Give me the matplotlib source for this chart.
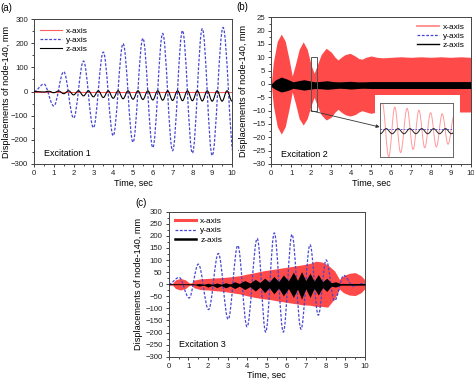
import numpy as np
import matplotlib
matplotlib.use("Agg")
import matplotlib.pyplot as plt
from matplotlib.path import Path
from matplotlib.patches import PathPatch, Rectangle, ConnectionPatch
from matplotlib.lines import Line2D
from matplotlib.ticker import MultipleLocator

plt.rcParams['font.family'] = ['Liberation Sans', 'DejaVu Sans']

# ---------------- (a) Excitation 1 : extrema of each series
a_y_t = [0, 0.5, 1.0, 1.5, 2.0, 2.5, 3.0, 3.5, 4.0, 4.5, 5.0, 5.5, 6.0, 6.5, 7.0, 7.5, 8.0, 8.5, 9.0, 9.55, 10.1]
a_y_v = [0, 31, -60, 82, -110, 126, -150, 163, -183, 198, -210, 220, -232, 240, -245, 252, -255, 260, -265, 265, -270]
a_z_t = [0, 0.5, 0.75, 1.0, 1.25, 1.5, 1.75, 2.0, 2.25, 2.5, 2.75, 3.0, 3.25, 3.5, 3.75, 4.0, 4.25, 4.5, 4.75,
         5.0, 5.25, 5.5, 5.75, 6.0, 6.25, 6.5, 6.75, 7.0, 7.25, 7.5, 7.75, 8.0, 8.25, 8.5, 8.75, 9.0, 9.25,
         9.5, 9.75, 10.0]
a_z_v = [0, -2, 1, -5, 2, -9, 3, -14, 3, -18, 3, -22, 3, -25, 3, -28, 3, -30, 3,
         -32, 3, -33, 3, -35, 3, -36, 3, -37, 3, -38, 3, -38, 3, -39, 3, -40, 3,
         -40, 3, -40]
a_x_t = [0, 10]
a_x_v = [0, 0]

# ---------------- (b) Excitation 2 : envelopes of the dense signals
b_x_t = [0, 0.1, 0.3, 0.5, 0.7, 0.9, 1.05, 1.2, 1.4, 1.6, 1.8, 2.0, 2.15, 2.3, 2.5, 2.75, 3.0, 3.2, 3.35,
         3.5, 3.7, 3.95, 4.2, 4.4, 4.55, 4.75, 5.0, 5.3, 5.6, 6.0, 6.5, 7.0, 7.5, 8.0, 8.5, 9.0, 9.5, 10.0]
b_x_hi = [0, 8, 16, 18.7, 16, 9, 3, 7, 13, 15.8, 13, 7, 4, 7, 11, 13.4, 12, 10, 9,
          10, 11, 11.5, 10.5, 9.5, 9.3, 10, 10.5, 10, 9.8, 10, 10.2, 10, 10.2, 10, 10.2, 10, 10.2, 10]
b_x_lo = [0, -8, -16, -18.8, -16, -9, -3, -7, -13, -15.4, -13, -8, -5, -8, -11.5, -13.5, -12.5, -10.5, -9.5,
          -10.5, -11.5, -12, -11.5, -10.5, -10, -10.5, -11, -10.5, -10.5, -10.5, -10.5, -10.5, -10.5, -10.5,
          -10.5, -10.5, -10.5, -10.5]
b_z_t = [0, 0.2, 0.5, 0.8, 1.1, 1.4, 1.65, 1.9, 2.2, 2.5, 2.8, 3.1, 3.4, 3.7, 4.0, 4.3, 4.6, 5.0, 6, 7, 8, 9, 10]
b_z_hi = [0, 1.5, 2.6, 1.8, 0.8, 1.3, 1.6, 1.2, 0.8, 1.0, 1.2, 0.9, 0.8, 0.9, 1.0, 0.8, 0.8, 0.9, 0.9, 0.9, 0.9, 0.9, 0.9]
b_z_lo = [-1, -2, -3, -2.5, -1.6, -2, -2.3, -2, -1.7, -1.8, -2, -1.8, -1.6, -1.7, -1.9, -1.7, -1.6, -1.7, -1.7,
          -1.7, -1.7, -1.7, -1.7]
b_y_t = [0, 10]
b_y_v = [-0.5, -0.5]

# zoomed window 1.97-2.31 s shown in the inset
ins_x_t = [1.97, 1.982, 2.012, 2.04, 2.067, 2.097, 2.125, 2.152, 2.179, 2.206, 2.233, 2.26, 2.287, 2.316]
ins_x_v = [9, 10, -10, 8.4, -8.5, 7.9, -7.3, 7.2, -6.7, 6.3, -6.4, 5.9, -5.4, 5.5]
ins_z_t = [1.97, 1.973, 2.0, 2.028, 2.055, 2.083, 2.11, 2.138, 2.165, 2.193, 2.22, 2.248, 2.275, 2.303, 2.33]
ins_z_v = [-1.3, -1.5, 0.4, -1.5, 0.4, -1.5, 0.4, -1.5, 0.4, -1.5, 0.4, -1.5, 0.4, -1.5, 0.4]
ins_y_t = [1.97, 2.31]
ins_y_v = [0.1, 0.1]

# ---------------- (c) Excitation 3
c_y_t = [0, 0.53, 1.04, 1.51, 2.03, 2.53, 3.03, 3.52, 3.99, 4.51, 4.94, 5.38, 5.84, 6.28, 6.74, 7.2, 7.62,
         8.02, 8.45, 8.92, 9.4, 9.8, 10.0]
c_y_v = [0, 28, -57, 83, -105, 127, -145, 160, -176, 189, -198, 212, -198, 206, -186, 163, -128,
         100, -68, 36, -8, 2, 0]
c_x_t = [0, 0.2, 0.35, 0.6, 0.85, 1.05, 1.15, 1.3, 1.6, 2.0, 2.4, 2.8, 3.2, 3.6, 4.0, 4.4, 4.8, 5.2, 5.6,
         6.0, 6.4, 6.8, 7.2, 7.5, 7.8, 8.1, 8.45, 8.7, 8.9, 9.2, 9.5, 9.8, 10.0]
c_x_hi = [3, 4, 18, 24, 18, 5, 5, 17, 22, 24, 26, 28, 31, 35, 42, 48, 55, 60, 65,
          70, 75, 80, 86, 95, 92, 80, 55, 20, 35, 45, 48, 35, 18]
c_x_lo = [-3, -4, -18, -24, -18, -5, -5, -15, -22, -24, -27, -30, -35, -40, -48, -55, -60, -64, -70,
          -75, -80, -85, -87, -92, -92, -95, -60, -20, -35, -45, -47, -35, -18]
c_z_t = [0, 1.2, 1.35, 1.55, 1.78, 2.0, 2.22, 2.45, 2.68, 2.9, 3.13, 3.36, 3.6, 3.87, 4.14, 4.41, 4.65, 4.89,
         5.12, 5.36, 5.6, 5.84, 6.1, 6.35, 6.56, 6.77, 6.98, 7.2, 7.41, 7.62, 7.84, 8.05, 8.28, 8.5, 8.75, 10]
c_z_hi = [2, 2, 1, 3, 0, 4, 0, 5, 0, 6, 1, 10, 3, 15, 5, 20, 7, 25,
          9, 32, 11, 38, 14, 50, 16, 52, 15, 45, 13, 40, 10, 25, 6, 10, 3, 3]
c_z_lo = [-2, -2, -3, -8, -4, -12, -5, -14, -6, -15, -7, -18, -8, -22, -10, -28, -12, -35,
          -14, -40, -16, -48, -18, -55, -20, -62, -19, -55, -17, -45, -14, -30, -8, -12, -4, -4]

RED = '#ff4a4a'
BLUE = '#4646d2'
DOT = (0, (2.2, 1.3))


def smooth(ax, t, v, **kw):
    # cubic bezier through the extrema with flat tangents (sine-like swing)
    verts = [(t[0], v[0])]
    codes = [Path.MOVETO]
    for i in range(1, len(t)):
        d = (t[i] - t[i - 1]) * 0.364
        verts += [(t[i - 1] + d, v[i - 1]), (t[i] - d, v[i]), (t[i], v[i])]
        codes += [Path.CURVE4] * 3
    ax.add_patch(PathPatch(Path(verts, codes), fill=False, **kw))


def style(ax, ymin, ymax, ymaj, ymin_step, ylab_x):
    ax.set_xlim(0, 10)
    ax.set_ylim(ymin, ymax)
    ax.xaxis.set_major_locator(MultipleLocator(1))
    ax.xaxis.set_minor_locator(MultipleLocator(0.5))
    ax.yaxis.set_major_locator(MultipleLocator(ymaj))
    ax.yaxis.set_minor_locator(MultipleLocator(ymin_step))
    ax.tick_params(which='major', direction='out', length=2.5, width=0.6, labelsize=5.6, pad=1.8, colors='#222')
    ax.tick_params(which='minor', direction='out', length=1.5, width=0.5)
    for s in ax.spines.values():
        s.set_linewidth(0.7)
        s.set_color('#444')
    ax.set_xlabel('Time, sec', fontsize=6.5, labelpad=1)
    ax.set_ylabel('Displacements of node-140, mm', fontsize=6.6)
    ax.yaxis.set_label_coords(ylab_x, 0.5)


fig = plt.figure(figsize=(4.74, 3.82), dpi=100)
W, H = 474, 382


def px_axes(x0, y0, x1, y1):
    return fig.add_axes([x0 / W, 1 - y1 / H, (x1 - x0) / W, (y1 - y0) / H])


# ---- (a)
ax1 = px_axes(34, 19, 232, 164)
ax1.plot(a_x_t, a_x_v, color='#ff5c5c', lw=0.8, zorder=2)
smooth(ax1, a_y_t, a_y_v, edgecolor=BLUE, lw=0.9, linestyle=DOT, zorder=3)
smooth(ax1, a_z_t, a_z_v, edgecolor='black', lw=0.8, zorder=4)
style(ax1, -300, 300, 100, 50, -0.118)
ax1.text(0.5, -258, 'Excitation 1', fontsize=6.5, va='center')
h1 = [Line2D([], [], color='#ff5c5c', lw=0.8), Line2D([], [], color=BLUE, lw=0.9, ls=DOT),
      Line2D([], [], color='black', lw=0.8)]
ax1.legend(h1, ['x-axis', 'y-axis', 'z-axis'], loc='upper left', frameon=False, fontsize=6,
           handlelength=2.6, handletextpad=0.5, labelspacing=0.15, borderaxespad=0.3,
           bbox_to_anchor=(0.0, 0.985))
fig.text(0.0, 1 - 8 / H, '(a)', fontsize=7, va='center', ha='left')

# ---- (b)
ax2 = px_axes(271.3, 17.3, 470.7, 164)
ax2.fill_between(b_x_t, b_x_lo, b_x_hi, color=RED, lw=0, zorder=2)
ax2.plot(b_y_t, b_y_v, color=BLUE, lw=0.9, ls=DOT, zorder=3)
ax2.fill_between(b_z_t, b_z_lo, b_z_hi, color='black', lw=0, zorder=4)
style(ax2, -30, 25, 5, 2.5, -0.118)
ax2.add_patch(Rectangle((5.2, -30), 4.28, 25.9, facecolor='white', edgecolor='none', zorder=5))
ax2.add_patch(Rectangle((1.97, -10), 0.34, 20, fill=False, edgecolor='#555', lw=0.7, zorder=6))
ax2.text(0.5, -26.6, 'Excitation 2', fontsize=6.5, va='center', zorder=7)
h2 = [Line2D([], [], color='#ff8a8a', lw=1.3), Line2D([], [], color=BLUE, lw=0.9, ls=DOT),
      Line2D([], [], color='black', lw=1.0)]
ax2.legend(h2, ['x-axis', 'y-axis', 'z-axis'], loc='upper right', frameon=False, fontsize=6,
           handlelength=2.6, handletextpad=0.5, labelspacing=0.15, borderaxespad=0.3)
fig.text(236 / W, 1 - 7 / H, '(b)', fontsize=7, va='center', ha='left')

axi = px_axes(379.7, 102.7, 453, 156.7)
axi.set_zorder(10)
smooth(axi, ins_x_t, ins_x_v, edgecolor='#ff9a9a', lw=0.7, zorder=2)
axi.plot(ins_y_t, ins_y_v, color=BLUE, lw=0.6, ls=(0, (2, 1.5)), zorder=3)
smooth(axi, ins_z_t, ins_z_v, edgecolor='#222', lw=0.7, zorder=4)
axi.set_xlim(1.97, 2.31)
axi.set_ylim(-10, 10)
axi.set_xticks([])
axi.set_yticks([])
for s in axi.spines.values():
    s.set_color('#666')
    s.set_linewidth(0.7)
con = ConnectionPatch(xyA=(1.97, -10), coordsA=ax2.transData, xyB=(0.0, 0.55), coordsB=axi.transAxes,
                      arrowstyle='-|>', mutation_scale=5, color='#333', lw=0.6)
fig.add_artist(con)

# ---- (c)
ax3 = px_axes(168.7, 211.7, 365, 356.7)
ax3.fill_between(c_x_t, c_x_lo, c_x_hi, color=RED, lw=0, zorder=2)
smooth(ax3, c_y_t, c_y_v, edgecolor=BLUE, lw=0.9, linestyle=DOT, zorder=3)
ax3.fill_between(c_z_t, c_z_lo, c_z_hi, color='black', lw=0, zorder=4)
style(ax3, -300, 300, 50, 25, -0.133)
ax3.text(0.5, -251, 'Excitation 3', fontsize=6.5, va='center')
h3 = [Line2D([], [], color=RED, lw=2.2), Line2D([], [], color=BLUE, lw=0.9, ls=DOT),
      Line2D([], [], color='black', lw=1.8)]
ax3.legend(h3, ['x-axis', 'y-axis', 'z-axis'], loc='upper left', frameon=False, fontsize=6,
           handlelength=2.6, handletextpad=0.5, labelspacing=0.15, borderaxespad=0.3)
fig.text(135 / W, 1 - 203 / H, '(c)', fontsize=7, va='center', ha='left')

fig.savefig('out.png', dpi=100)
